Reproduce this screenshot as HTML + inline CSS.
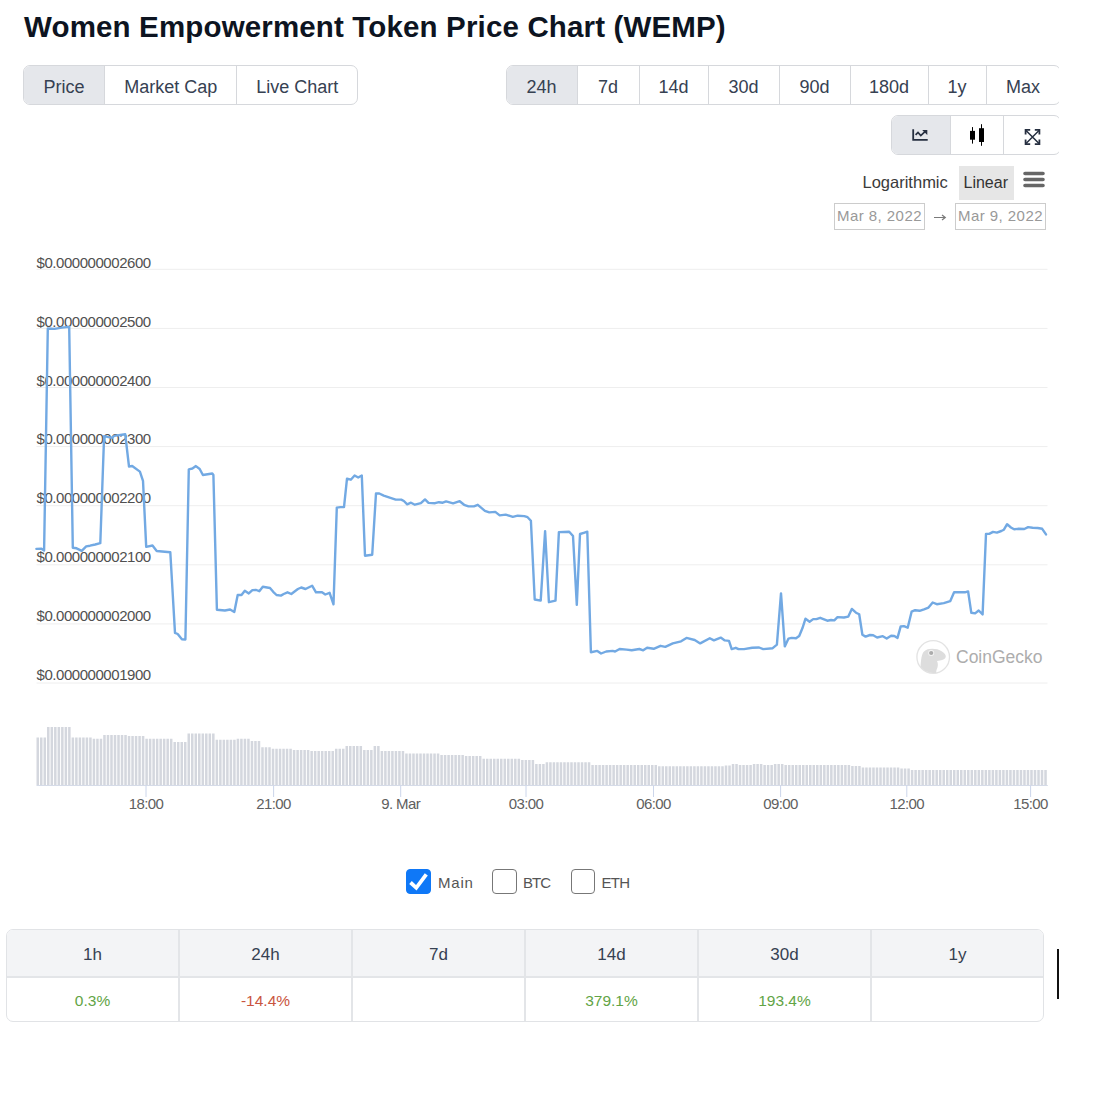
<!DOCTYPE html>
<html>
<head>
<meta charset="utf-8">
<style>
*{box-sizing:border-box;margin:0;padding:0}
html,body{width:1096px;height:1096px;overflow:hidden;background:#fff}
body{position:relative;font-family:"Liberation Sans",sans-serif;color:#0d1421}
.abs{position:absolute}
h1{position:absolute;left:24px;top:8.5px;font-size:29.5px;font-weight:700;letter-spacing:0.15px;color:#0d1421;white-space:nowrap;line-height:36px}
.clip{position:absolute;left:0;top:0;width:1059px;height:1096px;overflow:hidden}
.bg{position:absolute;display:flex;border:1px solid #d6d8dc;border-radius:7px;overflow:hidden;background:#fff}
.bg .b{height:38px;line-height:38px;padding-top:2px;font-size:18px;color:#364152;text-align:center;border-left:1px solid #d6d8dc;white-space:nowrap}
.bg .b:first-child{border-left:none}
.bg .b.on{background:#e5e7eb}
.yl{position:absolute;left:36.5px;font-size:15px;letter-spacing:-0.45px;line-height:18px;color:#505050;white-space:nowrap}
.xl{position:absolute;top:794.8px;width:100px;text-align:center;font-size:15px;letter-spacing:-0.6px;line-height:18px;color:#606060;white-space:nowrap}
.cb{position:absolute;top:869px;width:24.5px;height:24.5px;border:1.5px solid #777;border-radius:4px;background:#fff}
.cbl{position:absolute;top:874px;font-size:15px;line-height:18px;color:#555}
table{position:absolute;left:6px;top:929px;width:1038px;table-layout:fixed;border-collapse:separate;border-spacing:0;border:1px solid #e1e3e6;border-radius:7px;overflow:hidden}
td,th{width:173px;text-align:center;border-left:2px solid #e3e5e8;font-weight:400}
th:first-child{width:171px}
th:first-child,td:first-child{border-left:none}
th{height:48px;padding-top:4px;background:#f3f4f6;font-size:17px;color:#364152;border-bottom:2px solid #e3e5e8}
td{height:43px;padding-top:2px;font-size:15.5px}
.g{color:#62a445}
.r{color:#c95440}
</style>
</head>
<body>
<h1>Women Empowerment Token Price Chart (WEMP)</h1>

<div class="bg" style="left:23px;top:65px;width:335px;height:40px">
  <div class="b on" style="width:80.5px">Price</div>
  <div class="b" style="width:132.5px">Market Cap</div>
  <div class="b" style="width:121px">Live Chart</div>
</div>

<div class="clip">
  <div class="bg" style="left:505.5px;top:65px;width:555px;height:40px">
    <div class="b on" style="width:70px">24h</div>
    <div class="b" style="width:62px">7d</div>
    <div class="b" style="width:69px">14d</div>
    <div class="b" style="width:71px">30d</div>
    <div class="b" style="width:71px">90d</div>
    <div class="b" style="width:78px">180d</div>
    <div class="b" style="width:58px">1y</div>
    <div class="b" style="width:74px">Max</div>
  </div>
  <div class="bg" style="left:891px;top:115px;width:169.5px;height:40px">
    <div class="b on" style="width:58px"></div>
    <div class="b" style="width:53px"></div>
    <div class="b" style="width:56.5px"></div>
  </div>
</div>

<svg class="abs" style="left:0;top:0" width="1096" height="1096" viewBox="0 0 1096 1096">
  <!-- chart type icons -->
  <g fill="none" stroke="#262f40" stroke-width="1.8">
    <path d="M913.2 129.3V139.9H927.7"/>
  </g>
  <path d="M915.6 134.9L918 132.4L920.8 135.6L925 131.6" fill="none" stroke="#262f40" stroke-width="1.7"/>
  <path d="M922.2 130.1H927.3V135.1Z" fill="#262f40"/>
  <g fill="#000">
    <rect x="970" y="130.9" width="5" height="8.8"/>
    <rect x="972" y="127.1" width="1" height="16.5"/>
    <rect x="979" y="128.2" width="5" height="13.8"/>
    <rect x="981" y="124.2" width="1" height="21.6"/>
  </g>
  <path d="M1026 130.5L1039 143.5M1039 130.5L1026 143.5" fill="none" stroke="#262f40" stroke-width="1.5"/>
  <path d="M1025.6 134.6V129.9H1030.2M1034.8 129.9H1039.4V134.6M1039.4 139.4V144.1H1034.8M1030.2 144.1H1025.6V139.4" fill="none" stroke="#262f40" stroke-width="1.8"/>
  <!-- hamburger -->
  <g stroke="#666" stroke-width="3.6" stroke-linecap="round">
    <path d="M1025 173.5H1043M1025 179.5H1043M1025 185.5H1043"/>
  </g>
  <!-- date inputs -->
  <path d="M934 217.5H945M942 215L945.3 217.5L942 220" fill="none" stroke="#7a7a7a" stroke-width="1.2"/>
  <rect x="834.5" y="203.5" width="90" height="26" fill="#fff" stroke="#ccc"/>
  <rect x="955.5" y="203.5" width="90" height="26" fill="#fff" stroke="#ccc"/>
  <rect x="959" y="166" width="55" height="34" fill="#e6e6e6"/>
  <!-- grid -->
  <path d="M36.5 269.3H1047.5" stroke="#eeeeee" stroke-width="1" fill="none"/><path d="M36.5 328.4H1047.5" stroke="#eeeeee" stroke-width="1" fill="none"/><path d="M36.5 387.5H1047.5" stroke="#eeeeee" stroke-width="1" fill="none"/><path d="M36.5 446.6H1047.5" stroke="#eeeeee" stroke-width="1" fill="none"/><path d="M36.5 505.7H1047.5" stroke="#eeeeee" stroke-width="1" fill="none"/><path d="M36.5 564.8H1047.5" stroke="#eeeeee" stroke-width="1" fill="none"/><path d="M36.5 623.9H1047.5" stroke="#eeeeee" stroke-width="1" fill="none"/><path d="M36.5 683.0H1047.5" stroke="#eeeeee" stroke-width="1" fill="none"/>
  <!-- volume -->
  <path d="M36.50 737.5h2.51V785h-2.51ZM40.01 737.5h2.51V785h-2.51ZM43.52 737.5h2.51V785h-2.51ZM47.03 727.1h2.51V785h-2.51ZM50.55 727.1h2.51V785h-2.51ZM54.06 727.1h2.51V785h-2.51ZM57.57 727.1h2.51V785h-2.51ZM61.08 727.1h2.51V785h-2.51ZM64.59 727.1h2.51V785h-2.51ZM68.10 727.1h2.51V785h-2.51ZM71.61 737.5h2.51V785h-2.51ZM75.13 737.5h2.51V785h-2.51ZM78.64 737.5h2.51V785h-2.51ZM82.15 737.5h2.51V785h-2.51ZM85.66 737.5h2.51V785h-2.51ZM89.17 737.5h2.51V785h-2.51ZM92.68 738.7h2.51V785h-2.51ZM96.19 738.7h2.51V785h-2.51ZM99.71 738.7h2.51V785h-2.51ZM103.22 734.9h2.51V785h-2.51ZM106.73 734.9h2.51V785h-2.51ZM110.24 734.9h2.51V785h-2.51ZM113.75 734.9h2.51V785h-2.51ZM117.26 734.9h2.51V785h-2.51ZM120.77 734.9h2.51V785h-2.51ZM124.29 734.9h2.51V785h-2.51ZM127.80 736.0h2.51V785h-2.51ZM131.31 736.0h2.51V785h-2.51ZM134.82 736.0h2.51V785h-2.51ZM138.33 736.0h2.51V785h-2.51ZM141.84 736.0h2.51V785h-2.51ZM145.36 738.7h2.51V785h-2.51ZM148.87 738.7h2.51V785h-2.51ZM152.38 738.7h2.51V785h-2.51ZM155.89 738.7h2.51V785h-2.51ZM159.40 738.7h2.51V785h-2.51ZM162.91 738.7h2.51V785h-2.51ZM166.42 738.7h2.51V785h-2.51ZM169.94 738.7h2.51V785h-2.51ZM173.45 742.0h2.51V785h-2.51ZM176.96 742.0h2.51V785h-2.51ZM180.47 742.0h2.51V785h-2.51ZM183.98 742.0h2.51V785h-2.51ZM187.49 733.6h2.51V785h-2.51ZM191.00 733.6h2.51V785h-2.51ZM194.52 733.6h2.51V785h-2.51ZM198.03 733.6h2.51V785h-2.51ZM201.54 733.6h2.51V785h-2.51ZM205.05 733.6h2.51V785h-2.51ZM208.56 733.6h2.51V785h-2.51ZM212.07 733.6h2.51V785h-2.51ZM215.58 739.8h2.51V785h-2.51ZM219.10 739.8h2.51V785h-2.51ZM222.61 739.8h2.51V785h-2.51ZM226.12 739.8h2.51V785h-2.51ZM229.63 739.8h2.51V785h-2.51ZM233.14 739.8h2.51V785h-2.51ZM236.65 738.7h2.51V785h-2.51ZM240.16 738.7h2.51V785h-2.51ZM243.68 738.7h2.51V785h-2.51ZM247.19 738.7h2.51V785h-2.51ZM250.70 741.0h2.51V785h-2.51ZM254.21 741.0h2.51V785h-2.51ZM257.72 741.0h2.51V785h-2.51ZM261.23 747.3h2.51V785h-2.51ZM264.74 747.3h2.51V785h-2.51ZM268.26 747.3h2.51V785h-2.51ZM271.77 748.8h2.51V785h-2.51ZM275.28 748.8h2.51V785h-2.51ZM278.79 748.8h2.51V785h-2.51ZM282.30 748.8h2.51V785h-2.51ZM285.81 748.8h2.51V785h-2.51ZM289.32 748.8h2.51V785h-2.51ZM292.84 749.9h2.51V785h-2.51ZM296.35 749.9h2.51V785h-2.51ZM299.86 749.9h2.51V785h-2.51ZM303.37 749.9h2.51V785h-2.51ZM306.88 749.9h2.51V785h-2.51ZM310.39 751.1h2.51V785h-2.51ZM313.91 751.1h2.51V785h-2.51ZM317.42 751.1h2.51V785h-2.51ZM320.93 751.1h2.51V785h-2.51ZM324.44 751.1h2.51V785h-2.51ZM327.95 751.1h2.51V785h-2.51ZM331.46 751.1h2.51V785h-2.51ZM334.97 748.8h2.51V785h-2.51ZM338.49 748.8h2.51V785h-2.51ZM342.00 748.8h2.51V785h-2.51ZM345.51 746.0h2.51V785h-2.51ZM349.02 746.0h2.51V785h-2.51ZM352.53 746.0h2.51V785h-2.51ZM356.04 746.0h2.51V785h-2.51ZM359.55 746.0h2.51V785h-2.51ZM363.07 749.9h2.51V785h-2.51ZM366.58 749.9h2.51V785h-2.51ZM370.09 749.9h2.51V785h-2.51ZM373.60 746.0h2.51V785h-2.51ZM377.11 746.0h2.51V785h-2.51ZM380.62 751.0h2.51V785h-2.51ZM384.13 751.0h2.51V785h-2.51ZM387.65 751.0h2.51V785h-2.51ZM391.16 751.0h2.51V785h-2.51ZM394.67 751.0h2.51V785h-2.51ZM398.18 751.0h2.51V785h-2.51ZM401.69 751.0h2.51V785h-2.51ZM405.20 753.5h2.51V785h-2.51ZM408.71 753.5h2.51V785h-2.51ZM412.23 753.5h2.51V785h-2.51ZM415.74 753.5h2.51V785h-2.51ZM419.25 753.5h2.51V785h-2.51ZM422.76 753.5h2.51V785h-2.51ZM426.27 753.5h2.51V785h-2.51ZM429.78 753.5h2.51V785h-2.51ZM433.29 753.5h2.51V785h-2.51ZM436.81 753.5h2.51V785h-2.51ZM440.32 755.0h2.51V785h-2.51ZM443.83 755.0h2.51V785h-2.51ZM447.34 755.0h2.51V785h-2.51ZM450.85 755.0h2.51V785h-2.51ZM454.36 755.0h2.51V785h-2.51ZM457.88 755.0h2.51V785h-2.51ZM461.39 755.0h2.51V785h-2.51ZM464.90 756.1h2.51V785h-2.51ZM468.41 756.1h2.51V785h-2.51ZM471.92 756.1h2.51V785h-2.51ZM475.43 756.1h2.51V785h-2.51ZM478.94 756.1h2.51V785h-2.51ZM482.46 758.8h2.51V785h-2.51ZM485.97 758.8h2.51V785h-2.51ZM489.48 758.8h2.51V785h-2.51ZM492.99 758.8h2.51V785h-2.51ZM496.50 758.8h2.51V785h-2.51ZM500.01 758.8h2.51V785h-2.51ZM503.52 758.8h2.51V785h-2.51ZM507.04 758.8h2.51V785h-2.51ZM510.55 758.8h2.51V785h-2.51ZM514.06 758.8h2.51V785h-2.51ZM517.57 758.8h2.51V785h-2.51ZM521.08 760.0h2.51V785h-2.51ZM524.59 760.0h2.51V785h-2.51ZM528.10 760.0h2.51V785h-2.51ZM531.62 760.0h2.51V785h-2.51ZM535.13 763.9h2.51V785h-2.51ZM538.64 763.9h2.51V785h-2.51ZM542.15 763.9h2.51V785h-2.51ZM545.66 762.3h2.51V785h-2.51ZM549.17 762.3h2.51V785h-2.51ZM552.68 762.3h2.51V785h-2.51ZM556.20 762.3h2.51V785h-2.51ZM559.71 762.3h2.51V785h-2.51ZM563.22 762.3h2.51V785h-2.51ZM566.73 762.3h2.51V785h-2.51ZM570.24 762.3h2.51V785h-2.51ZM573.75 762.3h2.51V785h-2.51ZM577.26 762.3h2.51V785h-2.51ZM580.78 762.3h2.51V785h-2.51ZM584.29 762.3h2.51V785h-2.51ZM587.80 762.3h2.51V785h-2.51ZM591.31 765.0h2.51V785h-2.51ZM594.82 765.0h2.51V785h-2.51ZM598.33 765.0h2.51V785h-2.51ZM601.84 765.0h2.51V785h-2.51ZM605.36 765.0h2.51V785h-2.51ZM608.87 765.0h2.51V785h-2.51ZM612.38 765.0h2.51V785h-2.51ZM615.89 765.0h2.51V785h-2.51ZM619.40 765.0h2.51V785h-2.51ZM622.91 765.0h2.51V785h-2.51ZM626.42 765.0h2.51V785h-2.51ZM629.94 765.0h2.51V785h-2.51ZM633.45 765.0h2.51V785h-2.51ZM636.96 765.0h2.51V785h-2.51ZM640.47 765.0h2.51V785h-2.51ZM643.98 765.0h2.51V785h-2.51ZM647.49 765.0h2.51V785h-2.51ZM651.01 765.0h2.51V785h-2.51ZM654.52 765.0h2.51V785h-2.51ZM658.03 766.2h2.51V785h-2.51ZM661.54 766.2h2.51V785h-2.51ZM665.05 766.2h2.51V785h-2.51ZM668.56 766.2h2.51V785h-2.51ZM672.07 766.2h2.51V785h-2.51ZM675.59 766.2h2.51V785h-2.51ZM679.10 766.2h2.51V785h-2.51ZM682.61 766.2h2.51V785h-2.51ZM686.12 766.2h2.51V785h-2.51ZM689.63 766.2h2.51V785h-2.51ZM693.14 766.2h2.51V785h-2.51ZM696.65 766.2h2.51V785h-2.51ZM700.17 766.2h2.51V785h-2.51ZM703.68 766.2h2.51V785h-2.51ZM707.19 766.2h2.51V785h-2.51ZM710.70 766.2h2.51V785h-2.51ZM714.21 766.2h2.51V785h-2.51ZM717.72 766.2h2.51V785h-2.51ZM721.23 766.2h2.51V785h-2.51ZM724.75 765.4h2.51V785h-2.51ZM728.26 765.4h2.51V785h-2.51ZM731.77 763.9h2.51V785h-2.51ZM735.28 763.9h2.51V785h-2.51ZM738.79 765.0h2.51V785h-2.51ZM742.30 765.0h2.51V785h-2.51ZM745.81 765.0h2.51V785h-2.51ZM749.33 765.0h2.51V785h-2.51ZM752.84 763.9h2.51V785h-2.51ZM756.35 763.9h2.51V785h-2.51ZM759.86 763.9h2.51V785h-2.51ZM763.37 765.0h2.51V785h-2.51ZM766.88 765.0h2.51V785h-2.51ZM770.39 765.0h2.51V785h-2.51ZM773.91 763.9h2.51V785h-2.51ZM777.42 763.9h2.51V785h-2.51ZM780.93 763.9h2.51V785h-2.51ZM784.44 765.0h2.51V785h-2.51ZM787.95 765.0h2.51V785h-2.51ZM791.46 765.0h2.51V785h-2.51ZM794.97 765.0h2.51V785h-2.51ZM798.49 765.0h2.51V785h-2.51ZM802.00 765.0h2.51V785h-2.51ZM805.51 765.0h2.51V785h-2.51ZM809.02 765.0h2.51V785h-2.51ZM812.53 765.0h2.51V785h-2.51ZM816.04 765.0h2.51V785h-2.51ZM819.56 765.0h2.51V785h-2.51ZM823.07 765.0h2.51V785h-2.51ZM826.58 765.0h2.51V785h-2.51ZM830.09 765.0h2.51V785h-2.51ZM833.60 765.0h2.51V785h-2.51ZM837.11 765.0h2.51V785h-2.51ZM840.62 765.0h2.51V785h-2.51ZM844.14 765.0h2.51V785h-2.51ZM847.65 765.0h2.51V785h-2.51ZM851.16 765.9h2.51V785h-2.51ZM854.67 765.9h2.51V785h-2.51ZM858.18 765.9h2.51V785h-2.51ZM861.69 767.4h2.51V785h-2.51ZM865.20 767.4h2.51V785h-2.51ZM868.72 767.4h2.51V785h-2.51ZM872.23 767.4h2.51V785h-2.51ZM875.74 767.4h2.51V785h-2.51ZM879.25 767.4h2.51V785h-2.51ZM882.76 767.4h2.51V785h-2.51ZM886.27 767.4h2.51V785h-2.51ZM889.78 767.4h2.51V785h-2.51ZM893.30 767.4h2.51V785h-2.51ZM896.81 767.4h2.51V785h-2.51ZM900.32 768.5h2.51V785h-2.51ZM903.83 768.5h2.51V785h-2.51ZM907.34 768.5h2.51V785h-2.51ZM910.85 770.0h2.51V785h-2.51ZM914.36 770.0h2.51V785h-2.51ZM917.88 770.0h2.51V785h-2.51ZM921.39 770.0h2.51V785h-2.51ZM924.90 770.0h2.51V785h-2.51ZM928.41 770.0h2.51V785h-2.51ZM931.92 770.0h2.51V785h-2.51ZM935.43 770.0h2.51V785h-2.51ZM938.94 770.0h2.51V785h-2.51ZM942.46 770.0h2.51V785h-2.51ZM945.97 770.0h2.51V785h-2.51ZM949.48 770.0h2.51V785h-2.51ZM952.99 770.0h2.51V785h-2.51ZM956.50 770.0h2.51V785h-2.51ZM960.01 770.0h2.51V785h-2.51ZM963.52 770.0h2.51V785h-2.51ZM967.04 770.0h2.51V785h-2.51ZM970.55 770.0h2.51V785h-2.51ZM974.06 770.0h2.51V785h-2.51ZM977.57 770.0h2.51V785h-2.51ZM981.08 770.0h2.51V785h-2.51ZM984.59 770.0h2.51V785h-2.51ZM988.11 770.0h2.51V785h-2.51ZM991.62 770.0h2.51V785h-2.51ZM995.13 770.0h2.51V785h-2.51ZM998.64 770.0h2.51V785h-2.51ZM1002.15 770.0h2.51V785h-2.51ZM1005.66 770.0h2.51V785h-2.51ZM1009.17 770.0h2.51V785h-2.51ZM1012.69 770.0h2.51V785h-2.51ZM1016.20 770.0h2.51V785h-2.51ZM1019.71 770.0h2.51V785h-2.51ZM1023.22 770.0h2.51V785h-2.51ZM1026.73 770.0h2.51V785h-2.51ZM1030.24 770.0h2.51V785h-2.51ZM1033.75 770.0h2.51V785h-2.51ZM1037.27 770.0h2.51V785h-2.51ZM1040.78 770.0h2.51V785h-2.51ZM1044.29 770.0h2.51V785h-2.51Z" fill="#d4d7de"/>
  <path d="M36.5 785.5H1047.8" stroke="#d5dbe8" stroke-width="1" fill="none"/>
  <path d="M146 785.5V797" stroke="#ccd6eb" stroke-width="1" fill="none"/><path d="M273.6 785.5V797" stroke="#ccd6eb" stroke-width="1" fill="none"/><path d="M400.7 785.5V797" stroke="#ccd6eb" stroke-width="1" fill="none"/><path d="M526 785.5V797" stroke="#ccd6eb" stroke-width="1" fill="none"/><path d="M653.5 785.5V797" stroke="#ccd6eb" stroke-width="1" fill="none"/><path d="M780.6 785.5V797" stroke="#ccd6eb" stroke-width="1" fill="none"/><path d="M906.8 785.5V797" stroke="#ccd6eb" stroke-width="1" fill="none"/><path d="M1030.6 785.5V797" stroke="#ccd6eb" stroke-width="1" fill="none"/>
  <!-- coingecko watermark -->
  <circle cx="933.2" cy="657" r="16.3" fill="#fff" stroke="#e3e3e3" stroke-width="1.3"/>
  <path d="M920.5 667C921 660 921.5 654 924 651.5C926 649.5 929 648.8 932 648.8C936 648.8 939 649.5 942 651.5C944.5 653 946 655 945.8 656.8C945.5 659 943 660 940 660.5L937 661C938 663 938.5 666 936.5 670L936 673.2C930 673.5 924 671 920.5 667Z" fill="#dddddd"/>
  <circle cx="931.2" cy="653" r="3" fill="#f4f4f4"/>
  <circle cx="931.2" cy="653" r="2.1" fill="#ababab"/>
</svg>

<div class="abs" style="left:862.5px;top:173px;font-size:16.5px;line-height:18px;color:#3a3a3a;white-space:nowrap">Logarithmic</div>
<div class="abs" style="left:963.5px;top:174px;font-size:16px;line-height:18px;color:#333;white-space:nowrap">Linear</div>
<div class="abs" style="left:837px;top:207.3px;font-size:15px;letter-spacing:0.45px;line-height:18px;color:#999;white-space:nowrap">Mar 8, 2022</div>

<div class="abs" style="left:958px;top:207.3px;font-size:15px;letter-spacing:0.45px;line-height:18px;color:#999;white-space:nowrap">Mar 9, 2022</div>

<div class="yl" style="top:253.8px">$0.000000002600</div><div class="yl" style="top:312.7px">$0.000000002500</div><div class="yl" style="top:371.5px">$0.000000002400</div><div class="yl" style="top:430.4px">$0.000000002300</div><div class="yl" style="top:489.2px">$0.000000002200</div><div class="yl" style="top:548.1px">$0.000000002100</div><div class="yl" style="top:607.0px">$0.000000002000</div><div class="yl" style="top:665.8px">$0.000000001900</div>
<div class="xl" style="left:96px">18:00</div><div class="xl" style="left:223.60000000000002px">21:00</div><div class="xl" style="left:350.7px">9. Mar</div><div class="xl" style="left:476px">03:00</div><div class="xl" style="left:603.5px">06:00</div><div class="xl" style="left:730.6px">09:00</div><div class="xl" style="left:856.8px">12:00</div><div class="xl" style="left:980.5999999999999px">15:00</div>

<div class="abs" style="left:956px;top:647.5px;font-size:17.5px;line-height:18px;color:#adadad;white-space:nowrap">CoinGecko</div>

<svg class="abs" style="left:0;top:0;pointer-events:none" width="1096" height="1096" viewBox="0 0 1096 1096">
  <path d="M36.4,548.9 L41.5,548.7 L44.1,550.5 L47.8,328.5 L54.6,328.9 L61.9,327.6 L68.8,326.9 L69.2,327 L72.8,547.7 L76.6,548.3 L81.7,550.8 L86.2,546.4 L90,545.7 L95.2,544.5 L100.3,543.2 L104.1,436.2 L111.8,437.8 L114.3,435.9 L122,434.6 L125.2,434.2 L129,466.5 L132.2,466 L139.9,471.6 L143,480.8 L146.2,546.9 L152.5,545.5 L156.7,551 L170.3,552.2 L175,632.9 L177.7,634 L181.9,639.2 L185.4,639.5 L188.8,469.3 L192.4,468.5 L195.9,466.1 L199.7,469 L202.9,475 L212.3,473.5 L213.4,475 L216.9,609.8 L224.9,610.5 L230.1,609.5 L234.3,612 L237.7,595 L241.5,595 L244.8,590.7 L248.8,593.4 L252.4,590.1 L256.3,590 L259.3,591.2 L262.8,586.8 L270,588 L273.2,591.8 L276.5,595 L280.9,595.6 L283.7,594 L287.5,592.3 L291.3,594 L297.9,589 L301.2,587.5 L305.5,589 L312.1,585.7 L316,592.3 L322,592.3 L325.3,594.5 L329.6,592.8 L333.5,604.3 L336.8,507.6 L340.4,507.1 L344,507.1 L347,478.6 L350.8,479.7 L354.6,475.5 L358.2,477.5 L361.8,475.5 L365,555.8 L372.2,554.7 L376,493.4 L379.3,493.5 L383.7,495.6 L395.7,499.6 L401.2,499.6 L403.9,501 L407.2,504.3 L411,502.7 L414.9,504.7 L420.9,503.2 L425,499.4 L428.5,502.9 L435.1,503.2 L438.9,502.2 L442.8,502.7 L446.1,501.4 L453.1,503.4 L459.7,501.2 L464.1,504.8 L468.5,506.4 L473.9,506.4 L477.8,504.8 L484.9,510.8 L489.3,512.4 L495.3,511.9 L499.7,515.4 L505.7,514.6 L512.8,516.8 L517.7,515.7 L524.3,516.1 L527.6,517.2 L530.9,520.7 L534.7,599.5 L540.7,600.6 L545.1,531.1 L548.9,602.2 L555.5,600.6 L558.9,532.1 L569.2,531.7 L573,536 L576.8,604.9 L580,534 L583.8,532.8 L587.3,531.7 L590.9,652.2 L597.3,650.9 L601.1,653.5 L606.2,651.5 L612.6,650.9 L615.1,651.5 L619.6,649 L626.6,649.6 L631.7,650.3 L639.4,649 L643.2,650.3 L647.1,647.7 L653.7,648.8 L660.5,645.8 L665.3,646.8 L672.8,643.4 L681.1,641.3 L686.5,637.9 L694.7,640 L700.2,643.4 L709.8,638.2 L713.9,640.4 L720.7,637.6 L724.8,640.4 L729,640.9 L731.7,649.1 L735.8,647.8 L738.5,649.1 L744,649.1 L752.2,647.8 L759.1,647.5 L763.2,649.1 L772.7,648.2 L776.9,644.7 L781,593.4 L784.8,646.4 L788.5,638.6 L791.5,637.9 L796,638.3 L799.2,636 L802.4,628.3 L805.5,618.7 L809.6,621.7 L813.2,619.1 L816.4,619.1 L820.2,617.8 L827.3,620.7 L831.1,620 L834.3,620.4 L837.5,617.1 L843.9,617.5 L848.3,616.6 L851.8,608.9 L856,612.7 L859.2,614.3 L862.4,634.7 L865.6,636.6 L870,635 L873.2,635.3 L877.1,637.5 L882.8,636.2 L886.7,638.5 L891.1,635.7 L894.3,636 L897.5,637.9 L900.7,626.4 L903.9,626.1 L907.7,627.7 L911.6,611.7 L915.1,610.2 L919.6,610.8 L924,609.3 L928.5,607.6 L932.7,602.5 L936.8,604.2 L943.8,603.1 L950.2,601.2 L954.1,592.3 L961.1,592.3 L964.9,592.3 L968.1,591.4 L971.3,612.7 L975.1,613.4 L978.7,610.5 L982.6,614.4 L986,533.9 L989.2,533.9 L993,531.9 L996.9,532.6 L1001.3,531 L1003.9,529.7 L1007.1,524.2 L1010.9,527.5 L1014.1,529.3 L1018.6,528.8 L1024.3,529 L1028.1,527.1 L1032.6,527.8 L1037.7,528 L1042.2,528.8 L1046,534.4" fill="none" stroke="#72a9e3" stroke-width="2.4" stroke-linejoin="round" stroke-linecap="round"/>
</svg>

<div class="cb" style="left:406px;background:#0f78f7;border-color:#0f78f7"></div>
<svg class="abs" style="left:406px;top:869px" width="25" height="25" viewBox="0 0 25 25"><path d="M4.5 13.5L10.3 18.8L20.3 5.3" fill="none" stroke="#fff" stroke-width="3.8"/></svg>
<div class="cbl" style="left:438px;letter-spacing:0.8px">Main</div>
<div class="cb" style="left:492px"></div>
<div class="cbl" style="left:523px;letter-spacing:-1px">BTC</div>
<div class="cb" style="left:570.5px"></div>
<div class="cbl" style="left:601.5px;letter-spacing:-0.7px">ETH</div>

<table>
  <tr><th>1h</th><th>24h</th><th>7d</th><th>14d</th><th>30d</th><th>1y</th></tr>
  <tr><td class="g">0.3%</td><td class="r">-14.4%</td><td></td><td class="g">379.1%</td><td class="g">193.4%</td><td></td></tr>
</table>

<div class="abs" style="left:1057px;top:949px;width:2px;height:50px;background:#111"></div>
</body>
</html>
